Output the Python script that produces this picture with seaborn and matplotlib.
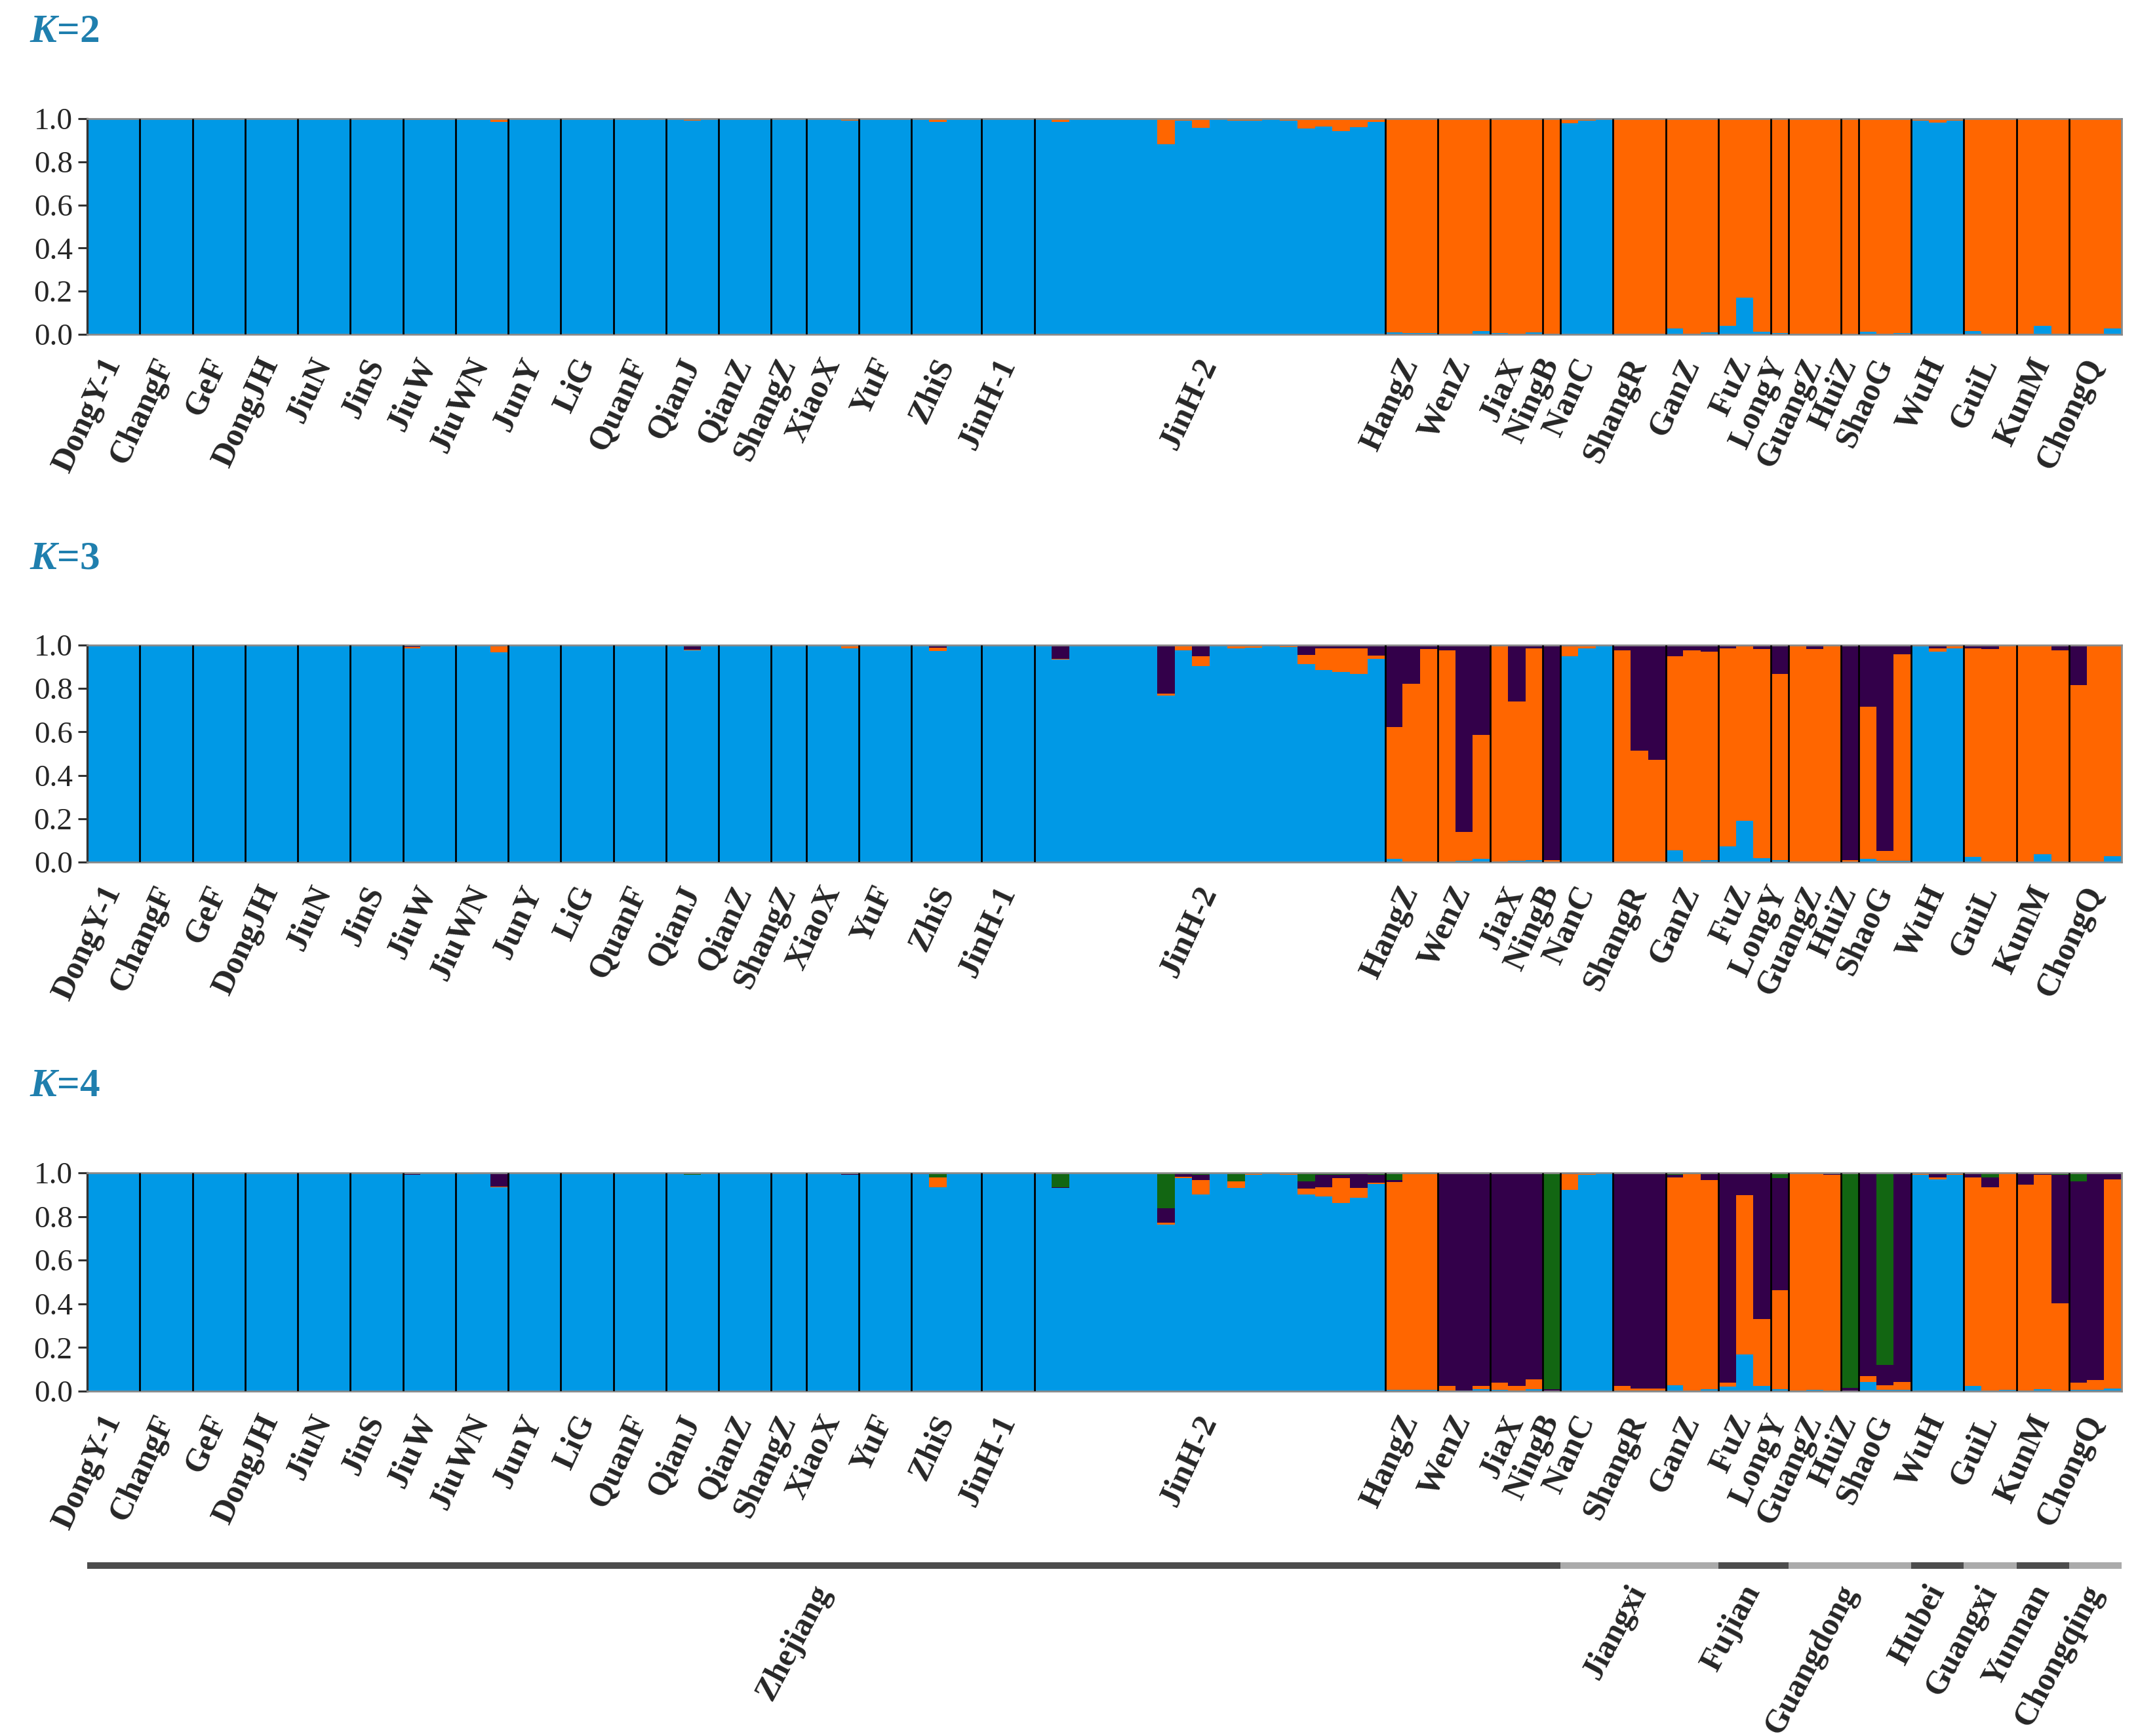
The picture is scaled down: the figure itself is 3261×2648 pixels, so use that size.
import numpy as np
import pandas as pd
import seaborn as sns
import matplotlib.pyplot as plt
from matplotlib import transforms

# populations, in plotting order, and number of individuals in each
pops = ["DongY-1", "ChangF", "GeF", "DongJH", "JiuN", "JinS", "JiuW", "JiuWN",
        "JunY", "LiG", "QuanF", "QianJ", "QianZ", "ShangZ", "XiaoX", "YuF",
        "ZhiS", "JinH-1", "JinH-2", "HangZ", "WenZ", "JiaX", "NingB", "NanC",
        "ShangR", "GanZ", "FuZ", "LongY", "GuangZ", "HuiZ", "ShaoG", "WuH",
        "GuiL", "KunM", "ChongQ"]
pop_sizes = [3, 3, 3, 3, 3, 3, 3, 3, 3, 3, 3, 3, 3, 2, 3, 3, 4, 3, 20,
             3, 3, 3, 1, 3, 3, 3, 3, 1, 3, 1, 3, 3, 3, 3, 3]

provinces = ["Zhejiang", "Jiangxi", "Fujian", "Guangdong", "Hubei",
             "Guangxi", "Yunnan", "Chongqing"]
province_sizes = [84, 9, 4, 7, 3, 3, 3, 3]

# membership coefficients per individual (blue cluster = the rest)
k2_orange = [
    0, 0, 0,  0, 0, 0,  0, 0, 0,  0, 0, 0,  0, 0, 0,  0, 0, 0.004,
    0.006, 0, 0,  0, 0, 0.015,  0, 0, 0,  0, 0, 0,  0, 0.005, 0,
    0, 0.008, 0,  0, 0, 0,  0, 0,  0, 0, 0.008,  0, 0, 0,  0, 0.015, 0, 0,
    0, 0, 0,
    0.003, 0.015, 0, 0, 0, 0, 0, 0.12, 0.01, 0.044, 0, 0.009, 0.01, 0,
    0.008, 0.045, 0.037, 0.057, 0.039, 0.015,
    0.99, 0.995, 0.995,  0.997, 0.997, 0.985,  0.995, 0.997, 0.99,  0.998,
    0.022, 0.009, 0.003,  0.998, 0.998, 0.998,  0.974, 0.997, 0.992,
    0.959, 0.83, 0.987,  0.995,  0.997, 0.997, 0.997,  0.999,
    0.989, 0.997, 0.995,  0.01, 0.017, 0.009,  0.985, 0.997, 0.997,
    0.997, 0.959, 0.997,  0.998, 0.997, 0.974]

k3_orange = [
    0, 0, 0,  0, 0, 0,  0, 0, 0,  0, 0, 0,  0, 0, 0,  0, 0, 0,
    0.007, 0, 0,  0, 0, 0.027,  0, 0, 0,  0, 0, 0,  0, 0, 0,
    0, 0.004, 0,  0, 0, 0,  0, 0,  0, 0, 0.015,  0, 0, 0,  0, 0.013, 0, 0,
    0, 0, 0,
    0, 0.004, 0, 0, 0, 0, 0, 0.01, 0.021, 0.048, 0, 0.015, 0.011, 0,
    0.008, 0.043, 0.10, 0.108, 0.118, 0.015,
    0.607, 0.819, 0.98,  0.972, 0.133, 0.572,  0.997, 0.735, 0.976,  0.01,
    0.047, 0.015, 0.003,  0.974, 0.513, 0.47,  0.894, 0.972, 0.961,
    0.914, 0.805, 0.962,  0.859,  0.995, 0.98, 0.997,  0.01,
    0.702, 0.043, 0.953,  0.007, 0.015, 0.015,  0.961, 0.978, 0.994,
    0.994, 0.959, 0.973,  0.815, 0.996, 0.97]

k3_purple = [
    0, 0, 0,  0, 0, 0,  0, 0, 0,  0, 0, 0,  0, 0, 0,  0, 0, 0,
    0.008, 0, 0,  0.004, 0, 0.006,  0, 0, 0,  0, 0, 0,  0, 0, 0,
    0, 0.021, 0,  0, 0, 0,  0, 0,  0, 0, 0,  0, 0, 0,  0, 0.013, 0, 0,
    0, 0, 0,
    0.003, 0.062, 0, 0, 0, 0, 0, 0.223, 0.004, 0.05, 0, 0, 0, 0,
    0, 0.044, 0.015, 0.015, 0.015, 0.047,
    0.379, 0.178, 0.017,  0.025, 0.86, 0.414,  0, 0.259, 0.014,  0.99,
    0.005, 0, 0,  0.024, 0.485, 0.528,  0.052, 0.025, 0.03,
    0.014, 0.005, 0.019,  0.133,  0.003, 0.017, 0,  0.99,
    0.284, 0.95, 0.042,  0, 0.015, 0,  0.015, 0.019, 0.003,
    0.003, 0.004, 0.024,  0.183, 0.002, 0.003]

k4_orange = [
    0, 0, 0,  0, 0, 0,  0, 0, 0,  0, 0, 0,  0, 0, 0,  0, 0, 0,
    0, 0, 0,  0.006, 0, 0.003,  0, 0, 0,  0, 0, 0,  0, 0, 0,
    0, 0, 0,  0, 0, 0,  0, 0,  0, 0, 0,  0, 0, 0,  0, 0.043, 0, 0,
    0, 0, 0,
    0, 0, 0, 0, 0, 0, 0, 0.007, 0.008, 0.068, 0, 0.03, 0.007, 0,
    0.006, 0.026, 0.043, 0.114, 0.047, 0.005,
    0.953, 0.99, 0.99,  0.023, 0, 0.015,  0.035, 0.021, 0.045,  0,
    0.072, 0.01, 0.003,  0.021, 0.011, 0.01,  0.952, 0.99, 0.958,
    0.019, 0.73, 0.305,  0.451,  0.997, 0.995, 0.988,  0,
    0.027, 0.023, 0.038,  0.01, 0.01, 0.01,  0.957, 0.932, 0.995,
    0.942, 0.98, 0.4,  0.033, 0.046, 0.959]

k4_purple = [
    0, 0, 0,  0, 0, 0,  0, 0, 0,  0, 0, 0,  0, 0, 0,  0, 0, 0,
    0.008, 0, 0,  0, 0, 0.062,  0, 0, 0,  0, 0, 0,  0, 0, 0,
    0, 0, 0,  0, 0, 0,  0, 0,  0, 0, 0.01,  0, 0, 0,  0.005, 0, 0, 0,
    0, 0, 0,
    0, 0.005, 0, 0, 0, 0, 0, 0.068, 0.017, 0.022, 0, 0, 0.003, 0,
    0.003, 0.034, 0.057, 0.015, 0.063, 0.037,
    0.01, 0, 0,  0.975, 0.997, 0.97,  0.96, 0.975, 0.947,  0.01,
    0.005, 0, 0,  0.975, 0.987, 0.988,  0.01, 0, 0.027,
    0.96, 0.094, 0.67,  0.514,  0, 0, 0.01,  0.015,
    0.932, 0.093, 0.957,  0, 0.02, 0,  0.02, 0.045, 0,
    0.055, 0.01, 0.589,  0.922, 0.949, 0.03]

k4_green = [
    0, 0, 0,  0, 0, 0,  0, 0, 0,  0, 0, 0,  0, 0, 0,  0, 0, 0,
    0, 0, 0,  0, 0, 0,  0, 0, 0,  0, 0, 0,  0, 0, 0,
    0, 0.008, 0,  0, 0, 0,  0, 0,  0, 0, 0,  0, 0, 0,  0, 0.022, 0, 0,
    0, 0, 0,
    0, 0.065, 0, 0, 0, 0, 0, 0.161, 0, 0.01, 0, 0.038, 0, 0,
    0, 0.038, 0.008, 0.01, 0.005, 0.008,
    0.032, 0.005, 0.005,  0, 0, 0.007,  0, 0, 0,  0.99,
    0, 0, 0,  0, 0, 0,  0.01, 0.007, 0.005,
    0, 0.007, 0,  0.025,  0, 0, 0,  0.985,
    0, 0.879, 0,  0, 0, 0,  0, 0.02, 0,
    0, 0, 0.008,  0.04, 0, 0]

BLUE, ORANGE, PURPLE, GREEN = "#0099e6", "#ff6600", "#33004a", "#126612"
TITLE_COLOR = "#1f7fae"

sns.set_style("white")
plt.rcParams["font.family"] = ["Liberation Serif", "DejaVu Serif"]
plt.rcParams["mathtext.fontset"] = "custom"
plt.rcParams["mathtext.it"] = "Liberation Serif:italic:bold"
plt.rcParams["mathtext.rm"] = "Liberation Serif:bold"

n = sum(pop_sizes)
ind_ids = np.arange(n)
pop_ends = np.cumsum(pop_sizes)
pop_centers = pop_ends - np.array(pop_sizes) / 2 - 0.5

fig = plt.figure(figsize=(16.305, 13.24), dpi=200)

W, H = 3261, 2648
left, right = 133, 3236


def panel_axes(top_px, bottom_px):
    return fig.add_axes([left / W, 1 - bottom_px / H,
                         (right - left) / W, (bottom_px - top_px) / H])


def draw_structure(ax, layers, colors):
    # layers are the non-blue clusters, bottom to top; blue takes the rest
    layers = [np.array(l, dtype=float) for l in layers]
    blue = 1 - np.sum(layers, axis=0)
    stack = [blue] + layers
    cums = np.cumsum(stack, axis=0)
    cols = [BLUE] + colors
    # draw tallest cumulative first, then overlay the lower ones
    for cum, c in zip(cums[::-1], cols[::-1]):
        df = pd.DataFrame({"ind": ind_ids, "q": cum})
        sns.barplot(data=df, x="ind", y="q", color=c, saturation=1, width=1,
                    linewidth=0, errorbar=None, ax=ax)
    ax.vlines(pop_ends[:-1] - 0.5, 0, 1, color="black", lw=1.0, zorder=5)
    ax.set_xlim(-0.5, n - 0.5)
    ax.set_ylim(0, 1)
    ax.set_xlabel("")
    ax.set_ylabel("")
    ax.set_yticks(np.arange(0, 1.01, 0.2))
    ax.set_yticklabels([f"{v:.1f}" for v in np.arange(0, 1.01, 0.2)])
    ax.set_xticks(pop_centers)
    ax.set_xticklabels(pops, rotation=65, ha="right", va="center",
                       rotation_mode="anchor", fontsize=18, fontweight="bold")
    ax.tick_params(axis="x", length=0, pad=14)
    ax.tick_params(axis="y", direction="out", length=5, width=1.1,
                   labelsize=17, pad=3, left=True, color="#333333")
    for side in ["top", "bottom", "right"]:
        ax.spines[side].set_color("#8a8a8a")
        ax.spines[side].set_linewidth(1.0)
    ax.spines["left"].set_color("#333333")
    ax.spines["left"].set_linewidth(1.2)


ax2 = panel_axes(181, 510)
draw_structure(ax2, [k2_orange], [ORANGE])
ax3 = panel_axes(984, 1315)
draw_structure(ax3, [k3_orange, k3_purple], [ORANGE, PURPLE])
ax4 = panel_axes(1789, 2122)
draw_structure(ax4, [k4_orange, k4_purple, k4_green], [ORANGE, PURPLE, GREEN])

for k, base_px in [(2, 64), (3, 867), (4, 1672)]:
    fig.text(45 / W, 1 - base_px / H, f"$K$={k}", fontsize=22,
             fontweight="bold", color=TITLE_COLOR, va="baseline", ha="left")

# province bar
axp = fig.add_axes([left / W, 1 - 2393 / H, (right - left) / W, 10 / H])
axp.set_xlim(-0.5, n - 0.5)
axp.set_ylim(0, 1)
axp.axis("off")
prov_ends = np.cumsum(province_sizes)
prov_starts = prov_ends - np.array(province_sizes)
for i, (s, e, name) in enumerate(zip(prov_starts, prov_ends, provinces)):
    axp.axvspan(s - 0.5, e - 0.5, color="#4d4d4d" if i % 2 == 0 else "#ababab", lw=0)
    axp.text((s + e) / 2 - 0.5, -2.8, name, rotation=62, ha="right", va="center",
             rotation_mode="anchor", fontsize=18, fontweight="bold")

fig.savefig("out.png", dpi=200)
